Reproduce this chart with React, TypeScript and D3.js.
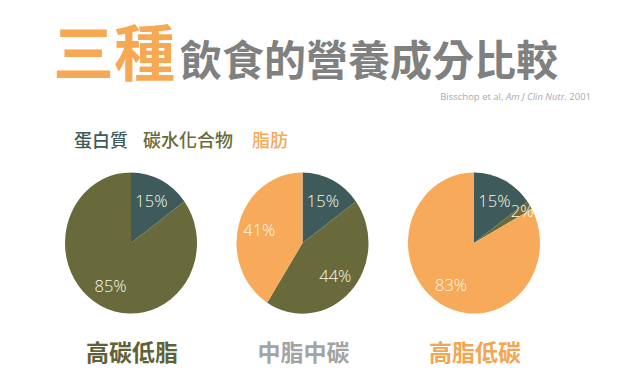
import React, { useRef, useEffect } from 'react';
import * as d3 from 'd3';

const nutrients = ['蛋白質', '碳水化合物', '脂肪'];
const nutrientColors = ['#3e5a5b', '#686a3b', '#f6aa5a'];
const diets = ['高碳低脂', '中脂中碳', '高脂低碳'];
const dietColors = ['#5f6236', '#a3a3a3', '#f2a655'];
// protein, carbs, fat (%)
const highCarb = [15, 85, 0];
const midFat = [15, 44, 41];
const highFat = [15, 2, 83];
const dietValues = [highCarb, midFat, highFat];

const W = 640;
const H = 392;

export default function App() {
  const svgRef = useRef<SVGSVGElement>(null);

  useEffect(() => {
    const svg = d3.select(svgRef.current);
    svg.selectAll('*').remove();
    const cjk = '"Noto Sans CJK TC", "Noto Sans CJK SC", sans-serif';

    svg.append('rect').attr('width', W).attr('height', H).attr('fill', '#ffffff');

    // Title
    const title = svg.append('text')
      .attr('x', 53)
      .attr('y', 76)
      .attr('font-family', cjk)
      .attr('font-weight', 700);
    title.append('tspan')
      .attr('fill', '#f6a853')
      .attr('font-size', 61)
      .text('三種');
    title.append('tspan')
      .attr('dx', 5)
      .attr('fill', '#808080')
      .attr('font-size', 42)
      .text('飲食的營養成分比較');

    // Citation
    const cite = svg.append('text')
      .attr('x', 591)
      .attr('y', 100)
      .attr('text-anchor', 'end')
      .attr('font-family', '"Open Sans", sans-serif')
      .attr('font-size', 9.5)
      .attr('fill', '#aaaaaa');
    cite.append('tspan').text('Bisschop et al, ');
    cite.append('tspan').attr('font-style', 'italic').text('Am J Clin Nutr.');
    cite.append('tspan').text(' 2001');

    // Legend
    const legendX = [74, 143, 252];
    svg.append('g')
      .selectAll('text')
      .data(nutrients)
      .enter()
      .append('text')
      .attr('x', (d, i) => legendX[i])
      .attr('y', 147)
      .attr('font-family', cjk)
      .attr('font-size', 18)
      .attr('font-weight', 500)
      .attr('fill', (d, i) => nutrientColors[i])
      .text(d => d);

    // Pies
    const xScale = d3.scalePoint<string>()
      .domain(diets)
      .range([131, 474]);
    const cy = 243;
    const r = 66;
    const sy = 1.07;

    const pie = d3.pie<number>().sort(null).value(d => d);
    const arc = d3.arc<d3.PieArcDatum<number>>().innerRadius(0).outerRadius(r);

    diets.forEach((diet, k) => {
      const cx = xScale(diet) as number;
      const arcs = pie(dietValues[k]).filter(a => a.value > 0);
      const g = svg.append('g').attr('transform', `translate(${cx},${cy})`);

      g.append('g')
        .attr('transform', `scale(1,${sy})`)
        .selectAll('path')
        .data(arcs)
        .enter()
        .append('path')
        .attr('d', arc)
        .attr('fill', d => nutrientColors[d.index]);

      g.selectAll('text')
        .data(arcs)
        .enter()
        .append('text')
        .attr('x', d => {
          const lr = d.value < 5 ? 57 : 45;
          const a = (d.startAngle + d.endAngle) / 2;
          return lr * Math.sin(a);
        })
        .attr('y', d => {
          const lr = d.value < 5 ? 57 : 45;
          const a = (d.startAngle + d.endAngle) / 2;
          return -lr * Math.cos(a) * sy;
        })
        .attr('text-anchor', 'middle')
        .attr('dominant-baseline', 'central')
        .attr('font-family', '"Open Sans", "Liberation Sans", sans-serif')
        .attr('font-weight', 300)
        .attr('font-size', 16.5)
        .attr('fill', '#fcf9e6')
        .text(d => `${d.value}%`);

      svg.append('text')
        .attr('x', cx + 1)
        .attr('y', 361)
        .attr('text-anchor', 'middle')
        .attr('font-family', cjk)
        .attr('font-size', 23)
        .attr('font-weight', 700)
        .attr('fill', dietColors[k])
        .text(diet);
    });
  }, []);

  return (
    <svg
      ref={svgRef}
      width={W}
      height={H}
      style={{ position: 'absolute', left: 0, top: 0 }}
    />
  );
}
